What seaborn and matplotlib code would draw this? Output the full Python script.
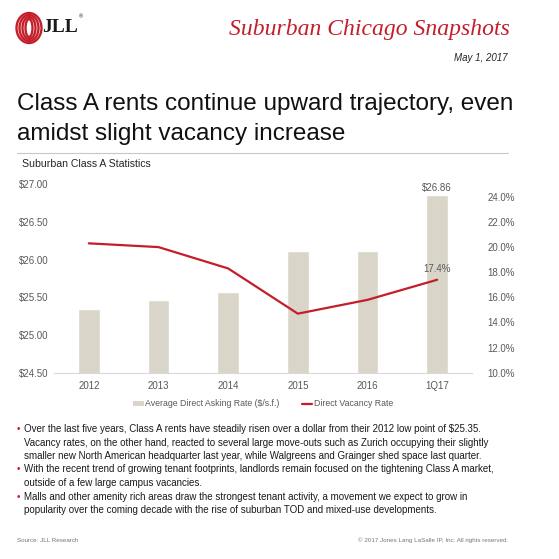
import numpy as np
import pandas as pd
import seaborn as sns
import matplotlib.pyplot as plt
from matplotlib.patches import Ellipse
from matplotlib.lines import Line2D
from matplotlib.patches import Patch

# chart data
periods = ['2012', '2013', '2014', '2015', '2016', '1Q17']
asking_rent = [25.35, 25.46, 25.57, 26.11, 26.12, 26.86]
vacancy_pct = [20.3, 20.0, 18.3, 14.7, 15.8, 17.4]

rent_ticks = [24.5, 25.0, 25.5, 26.0, 26.5, 27.0]
vac_ticks = [10, 12, 14, 16, 18, 20, 22, 24]

bullets = [
    ['Over the last five years, Class A rents have steadily risen over a dollar from their 2012 low point of $25.35.',
     'Vacancy rates, on the other hand, reacted to several large move-outs such as Zurich occupying their slightly',
     'smaller new North American headquarter last year, while Walgreens and Grainger shed space last quarter.'],
    ['With the recent trend of growing tenant footprints, landlords remain focused on the tightening Class A market,',
     'outside of a few large campus vacancies.'],
    ['Malls and other amenity rich areas draw the strongest tenant activity, a movement we expect to grow in',
     'popularity over the coming decade with the rise of suburban TOD and mixed-use developments.'],
]

BAR = '#dad5c9'
RED = '#c41e2a'
GREY = '#595959'

sns.set_style('white')
plt.rcParams['font.family'] = ['Liberation Sans', 'DejaVu Sans']

W = H = 559
fig = plt.figure(figsize=(W / 100, H / 100), dpi=100)


def fx(x):
    return x / W


def fy(y):
    return 1 - y / H


df = pd.DataFrame({'period': periods, 'rent': asking_rent, 'vacancy': vacancy_pct})
df['pos'] = np.arange(len(df))

ax = fig.add_axes([fx(54), fy(372.7), fx(472) - fx(54), fy(184.3) - fy(372.7)])
sns.barplot(data=df, x='period', y='rent', color=BAR, width=0.31, saturation=1, ax=ax)
ax.set_ylim(24.5, 27.0)
ax.set_xlim(-0.5, len(df) - 0.5)
ax.set_yticks(rent_ticks)
ax.set_yticklabels([f'${v:.2f}' for v in rent_ticks])
ax.set_xlabel('')
ax.set_ylabel('')
for s in ['top', 'right', 'left']:
    ax.spines[s].set_visible(False)
ax.spines['bottom'].set_color('#d9d9d9')
ax.tick_params(axis='both', length=0, labelsize=7, colors=GREY, pad=6)
ax.tick_params(axis='y', pad=4)
ax.text(df['pos'].iloc[-1], df['rent'].iloc[-1] + 0.03, f"${df['rent'].iloc[-1]:.2f}",
        ha='center', va='bottom', fontsize=7, color=GREY)

ax2 = ax.twinx()
sns.lineplot(data=df, x='pos', y='vacancy', color=RED, linewidth=1.6, ax=ax2)
ax2.set_ylim(10, 25)
ax2.set_yticks(vac_ticks)
ax2.set_yticklabels([f'{v:.1f}%' for v in vac_ticks])
ax2.set_xlabel('')
ax2.set_ylabel('')
for s in ['top', 'right', 'left', 'bottom']:
    ax2.spines[s].set_visible(False)
ax2.tick_params(axis='y', length=0, labelsize=7, colors=GREY, pad=11)
ax2.text(df['pos'].iloc[-1], df['vacancy'].iloc[-1] + 0.45, f"{df['vacancy'].iloc[-1]:.1f}%",
         ha='center', va='bottom', fontsize=7, color=GREY)

handles = [Patch(facecolor=BAR, edgecolor='none', label='Average Direct Asking Rate ($/s.f.)'),
           Line2D([0], [0], color=RED, lw=1.6, label='Direct Vacancy Rate')]
fig.legend(handles=handles, loc='center', bbox_to_anchor=(fx(263), fy(404)), ncol=2,
           frameon=False, fontsize=6.3, handlelength=1.2, handleheight=0.5, handletextpad=0.15,
           columnspacing=2.6, labelcolor=GREY)

# header
for w, h in [(25, 30), (19, 26), (13, 22), (7, 18)]:
    fig.add_artist(Ellipse((fx(29), fy(28)), w / W, h / H, fill=False, edgecolor=RED, lw=1.7))
fig.text(fx(42), fy(28), 'JLL', fontsize=14, fontweight='bold', family='Liberation Serif',
         va='center', ha='left', color='#1a1a1a')
fig.text(fx(79), fy(17), '®', fontsize=4, va='center', ha='left', color='#1a1a1a')
fig.text(fx(510), fy(30), 'Suburban Chicago Snapshots', fontsize=17, style='italic',
         family='Liberation Serif', color=RED, ha='right', va='center')
fig.text(fx(508), fy(58), 'May 1, 2017', fontsize=7, style='italic', ha='right', va='center')

fig.text(fx(17), fy(104), 'Class A rents continue upward trajectory, even', fontsize=17.5,
         ha='left', va='center', color='#111111')
fig.text(fx(17), fy(134), 'amidst slight vacancy increase', fontsize=17.5,
         ha='left', va='center', color='#111111')
fig.add_artist(Line2D([fx(17), fx(508)], [fy(153), fy(153)], color='#c8c8c8', lw=0.8))
fig.text(fx(22), fy(164), 'Suburban Class A Statistics', fontsize=7.6, ha='left', va='center')

# commentary bullets, one text per line
y = 429
for lines in bullets:
    fig.text(fx(17), fy(y), '•', fontsize=7, color=RED, ha='left', va='center')
    for line in lines:
        fig.text(fx(24), fy(y), line, fontsize=7, ha='left', va='center', color='#1a1a1a')
        y += 13.5

fig.text(fx(17), fy(540), 'Source: JLL Research', fontsize=4.5, color='#777777', ha='left', va='center')
fig.text(fx(508), fy(540), '© 2017 Jones Lang LaSalle IP, Inc. All rights reserved.', fontsize=4.5,
         color='#777777', ha='right', va='center')

fig.savefig('out.png', dpi=100)
